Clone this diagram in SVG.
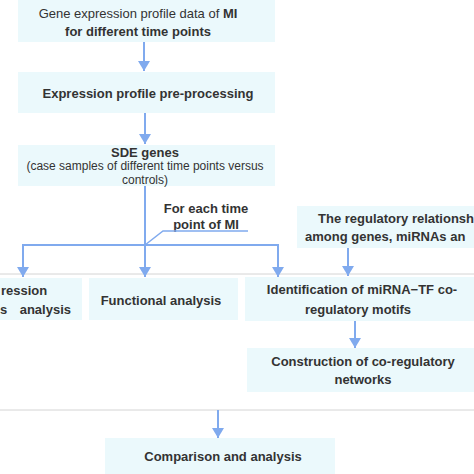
<svg xmlns="http://www.w3.org/2000/svg" width="474" height="474" viewBox="0 0 474 474">
<defs>
<style>
.box{fill:#ebf9fc;stroke:none}
.t{font-family:"Liberation Sans",Arial,sans-serif;font-size:13px;fill:#333;font-weight:bold}
.n{font-weight:normal}
.s{font-family:"Liberation Sans",Arial,sans-serif;font-size:12px;fill:#333}
.c{fill:none;stroke:#80aaee;stroke-width:2}
.g{stroke:#d4d4d4;stroke-width:1}
</style>
<marker id="ah" markerUnits="userSpaceOnUse" markerWidth="12" markerHeight="12" refX="10" refY="6" orient="auto">
<path d="M0,0 L10,6 L0,12 Z" fill="#80aaee"/>
</marker>
</defs>
<rect width="474" height="474" fill="#fff"/>
<line class="g" x1="0" y1="274" x2="474" y2="274"/>
<line class="g" x1="0" y1="410" x2="474" y2="410"/>
<g id="n1">
<rect class="box" x="18" y="-2" width="257" height="44"/>
<text class="t n" x="138" y="18" text-anchor="middle">Gene expression profile data of <tspan font-weight="bold">MI</tspan></text>
<text class="t" x="138" y="36" text-anchor="middle">for different time points</text>
</g>
<g id="n2">
<rect class="box" x="18" y="72" width="257" height="41"/>
<text class="t" x="148" y="98" text-anchor="middle">Expression profile pre-processing</text>
</g>
<g id="n3">
<rect class="box" x="18" y="145" width="257" height="41"/>
<text class="t" x="145" y="157" text-anchor="middle">SDE genes</text>
<text class="s" x="145" y="170" text-anchor="middle">(case samples of different time points versus</text>
<text class="s" x="145" y="184" text-anchor="middle">controls)</text>
</g>
<g id="lbl">
<text class="t" x="206" y="213" text-anchor="middle">For each time</text>
<text class="t" x="206" y="229" text-anchor="middle">point of MI</text>
</g>
<g id="n4">
<rect class="box" x="297" y="206" width="180" height="42"/>
<text class="t" x="318" y="223">The regulatory relationsh</text>
<text class="t" x="305" y="241">among genes, miRNAs an</text>
</g>
<g id="n5">
<rect class="box" x="-2" y="278" width="84" height="42"/>
<text class="t" x="1" y="295">ression</text>
<text class="t" x="0" y="314">s</text>
<text class="t" x="71" y="314" text-anchor="end">analysis</text>
</g>
<g id="n6">
<rect class="box" x="89" y="278" width="149" height="42"/>
<text class="t" x="161" y="305" text-anchor="middle">Functional analysis</text>
</g>
<g id="n7">
<rect class="box" x="245" y="277" width="232" height="44"/>
<text class="t" x="362" y="294" text-anchor="middle">Identification of miRNA−TF co-</text>
<text class="t" x="358" y="314" text-anchor="middle">regulatory motifs</text>
</g>
<g id="n8">
<rect class="box" x="247" y="348" width="230" height="44"/>
<text class="t" x="363" y="366" text-anchor="middle">Construction of co-regulatory</text>
<text class="t" x="363" y="384" text-anchor="middle">networks</text>
</g>
<g id="n9">
<rect class="box" x="105" y="438" width="230" height="36"/>
<text class="t" x="223" y="461" text-anchor="middle">Comparison and analysis</text>
</g>
<g id="connectors">
<line class="c" x1="144" y1="42" x2="144" y2="71" marker-end="url(#ah)"/>
<line class="c" x1="145" y1="113" x2="145" y2="144" marker-end="url(#ah)"/>
<line class="c" x1="145" y1="186" x2="145" y2="245"/>
<polyline class="c" points="23,277 23,245 278,245 278,277" marker-end="url(#ah)"/>
<path class="c" d="M23,262 L23,277" marker-end="url(#ah)"/>
<line class="c" x1="145" y1="245" x2="145" y2="277" marker-end="url(#ah)"/>
<polyline class="c" points="145,245 163,231 248,231" style="stroke-width:1.5"/>
<line class="c" x1="348" y1="248" x2="348" y2="276" marker-end="url(#ah)"/>
<line class="c" x1="355" y1="321" x2="355" y2="348" marker-end="url(#ah)"/>
<line class="c" x1="218" y1="410" x2="218" y2="438" marker-end="url(#ah)"/>
</g>
</svg>
